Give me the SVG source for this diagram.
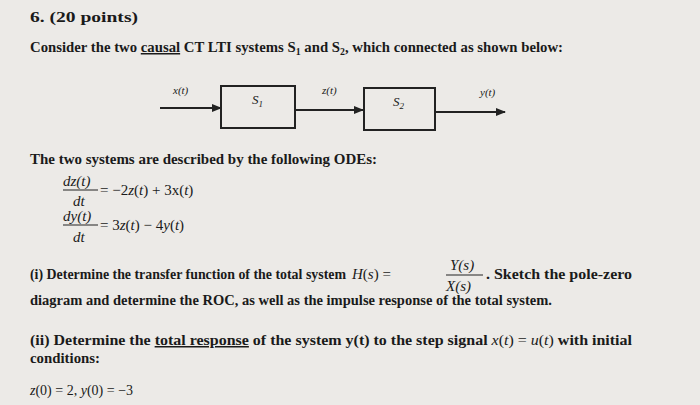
<svg xmlns="http://www.w3.org/2000/svg" width="700" height="405" viewBox="0 0 700 405">
<defs><marker id="ah" markerWidth="10" markerHeight="8" refX="9" refY="4" orient="auto" markerUnits="userSpaceOnUse"><path d="M0,0 L10,4 L0,8 z" fill="#222"/></marker>
<style>
text{font-family:"Liberation Serif",serif;fill:#1a1a1a}
.b{font-weight:bold;font-size:15px}
.i{font-style:italic}
.n{font-weight:normal}
.box{fill:none;stroke:#222;stroke-width:2}
.ln{stroke:#222;stroke-width:2;fill:none}
</style></defs>
<rect width="700" height="405" fill="#eceae7"/>
<text x="30" y="22" class="b" textLength="108" lengthAdjust="spacingAndGlyphs">6.  (20 points)</text>
<text x="30" y="52" class="b" textLength="533" lengthAdjust="spacingAndGlyphs">Consider the two <tspan text-decoration="underline">causal</tspan> CT LTI systems S<tspan font-size="10" dy="3">1</tspan><tspan dy="-3"> and S</tspan><tspan font-size="10" dy="3">2</tspan><tspan dy="-3">, which connected as shown below:</tspan></text>
<g id="connectors">
<line x1="160" y1="108" x2="221" y2="108" class="ln" marker-end="url(#ah)"/>
<line x1="295" y1="110" x2="363" y2="110" class="ln" marker-end="url(#ah)"/>
<line x1="435" y1="112" x2="505" y2="112" class="ln" marker-end="url(#ah)"/>
</g>
<g id="S1"><rect x="221" y="86" width="74" height="42" class="box"/><text x="252" y="104" font-size="13" class="i">S<tspan font-size="9" dy="3">1</tspan></text></g>
<g id="S2"><rect x="364" y="88" width="71" height="42" class="box"/><text x="393" y="106" font-size="13" class="i">S<tspan font-size="9" dy="3">2</tspan></text></g>
<text x="173" y="94" font-size="11" class="i">x(t)</text>
<text x="322" y="94" font-size="11" class="i">z(t)</text>
<text x="480" y="96" font-size="11" class="i">y(t)</text>
<text x="30" y="164" class="b" textLength="347" lengthAdjust="spacingAndGlyphs">The two systems are described by the following ODEs:</text>
<g font-size="15">
<text x="63" y="186" class="i">dz(t)</text>
<line x1="63" y1="190" x2="98" y2="190" stroke="#222"/>
<text x="73" y="206" class="i">dt</text>
<text x="100" y="195">= −2<tspan class="i">z</tspan>(<tspan class="i">t</tspan>) + 3x(<tspan class="i">t</tspan>)</text>
<text x="63" y="221" class="i">dy(t)</text>
<line x1="63" y1="225" x2="98" y2="225" stroke="#222"/>
<text x="73" y="242" class="i">dt</text>
<text x="100" y="230">= 3<tspan class="i">z</tspan>(<tspan class="i">t</tspan>) − 4<tspan class="i">y</tspan>(<tspan class="i">t</tspan>)</text>
</g>
<text x="30" y="279" class="b" textLength="316" lengthAdjust="spacingAndGlyphs">(i) Determine the transfer function of the total system</text>
<text x="352" y="279" font-size="15"><tspan class="i">H</tspan>(<tspan class="i">s</tspan>) =</text>
<text x="450" y="270" font-size="15" class="i">Y(s)</text>
<line x1="446" y1="275" x2="483" y2="275" stroke="#222"/>
<text x="446" y="291" font-size="15" class="i">X(s)</text>
<text x="486" y="279" class="b" textLength="146" lengthAdjust="spacingAndGlyphs">. Sketch the pole-zero</text>
<text x="30" y="305" class="b" textLength="522" lengthAdjust="spacingAndGlyphs">diagram and determine the ROC, as well as the impulse response of the total system.</text>
<text x="30" y="345" class="b" textLength="602" lengthAdjust="spacingAndGlyphs">(ii) Determine the <tspan text-decoration="underline">total response</tspan> of the system y(t) to the step signal <tspan class="i n">x</tspan><tspan class="n">(</tspan><tspan class="i n">t</tspan><tspan class="n">) = </tspan><tspan class="i n">u</tspan><tspan class="n">(</tspan><tspan class="i n">t</tspan><tspan class="n">)</tspan> with initial</text>
<text x="30" y="363" class="b" textLength="70" lengthAdjust="spacingAndGlyphs">conditions:</text>
<text x="30" y="395" font-size="14"><tspan class="i">z</tspan>(0) = 2, <tspan class="i">y</tspan>(0) = −3</text>
</svg>
